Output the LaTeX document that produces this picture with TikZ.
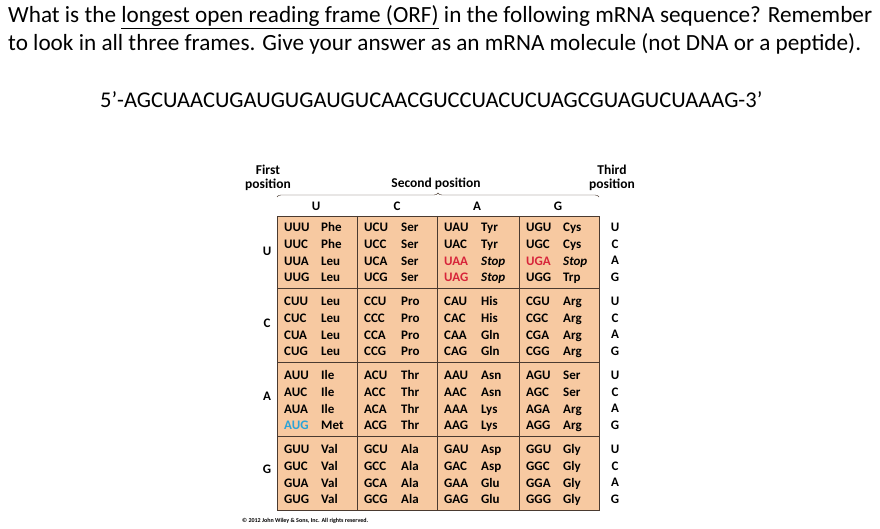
\documentclass[tikz,border=0pt]{standalone}
\usepackage{fontspec}
\setmainfont{Carlito}
\usetikzlibrary{decorations.pathreplacing}
\definecolor{peach}{HTML}{F7C9A1}
\definecolor{stopred}{HTML}{D7243A}
\definecolor{metblue}{HTML}{2AA3D8}
\definecolor{gridc}{HTML}{4A3A30}
\begin{document}
\begin{tikzpicture}[x=1pt,y=-1pt,
  q/.style={anchor=base west,inner sep=0,font=\fontsize{23.2}{26}\selectfont},
  t/.style={inner sep=0,text height=9pt,text depth=2pt,font=\bfseries\fontsize{13}{14}\selectfont},
  h/.style={inner sep=0,font=\bfseries\fontsize{13.5}{14}\selectfont,align=center}]
\useasboundingbox (0,0) rectangle (880,529);
\node[q] (q1) at (8,23) {What is the \underline{longest open reading frame (ORF)} in the following mRNA sequence? Remember};
\node[q] (q2) at (8,51) {to look in all three frames. Give your answer as an mRNA molecule (not DNA or a peptide).};
\node[q,font=\fontsize{22.5}{26}\selectfont] (seq) at (100,108) {5’-AGCUAACUGAUGUGAUGUCAACGUCCUACUCUAGCGUAGUCUAAAG-3’};
% table
\fill[peach] (277,216) rectangle (599,510);
\foreach \x in {357,437,519} \draw[gridc,line width=0.9] (\x,216) -- (\x,510);
\foreach \y in {288,362,436} \draw[gridc,line width=0.9] (277,\y) -- (599,\y);
\draw[gridc,line width=0.9] (277,216) rectangle (599,510);
\node[h] (fp) at (268,178) {First\\position};
\node[h] (sp) at (436,184) {Second position};
\node[h] (tp) at (612,178) {Third\\position};
\draw[gridc,decorate,decoration={brace,amplitude=4pt}] (277,197) -- (599,197);
\foreach \l/\x in {U/316,C/397,A/477,G/558} \node[t] (c\l) at (\x,207) {\l};
\foreach \l/\y in {U/252,C/324,A/397,G/470}{
  \node[t] (r\l) at (267,\y) {\l};}
\foreach \yy in {228,302,376,450}
  \foreach \l [count=\i from 0] in {U,C,A,G} \node[t] (th\yy\l) at (615,\yy+16.7*\i) {\l};
\def\cell#1#2#3#4{\node[t,anchor=west] (k#1#2) at (#1+7,#2) {#3};\node[t,anchor=west] (a#1#2) at (#1+44,#2) {#4};}
% U block
\cell{277}{228}{UUU}{Phe}\cell{277}{245}{UUC}{Phe}\cell{277}{262}{UUA}{Leu}\cell{277}{278}{UUG}{Leu}
\cell{357}{228}{UCU}{Ser}\cell{357}{245}{UCC}{Ser}\cell{357}{262}{UCA}{Ser}\cell{357}{278}{UCG}{Ser}
\cell{437}{228}{UAU}{Tyr}\cell{437}{245}{UAC}{Tyr}\cell{437}{262}{\color{stopred}UAA}{\itshape Stop}\cell{437}{278}{\color{stopred}UAG}{\itshape Stop}
\cell{519}{228}{UGU}{Cys}\cell{519}{245}{UGC}{Cys}\cell{519}{262}{\color{stopred}UGA}{\itshape Stop}\cell{519}{278}{UGG}{Trp}
% C block
\cell{277}{302}{CUU}{Leu}\cell{277}{319}{CUC}{Leu}\cell{277}{336}{CUA}{Leu}\cell{277}{352}{CUG}{Leu}
\cell{357}{302}{CCU}{Pro}\cell{357}{319}{CCC}{Pro}\cell{357}{336}{CCA}{Pro}\cell{357}{352}{CCG}{Pro}
\cell{437}{302}{CAU}{His}\cell{437}{319}{CAC}{His}\cell{437}{336}{CAA}{Gln}\cell{437}{352}{CAG}{Gln}
\cell{519}{302}{CGU}{Arg}\cell{519}{319}{CGC}{Arg}\cell{519}{336}{CGA}{Arg}\cell{519}{352}{CGG}{Arg}
% A block
\cell{277}{376}{AUU}{Ile}\cell{277}{393}{AUC}{Ile}\cell{277}{410}{AUA}{Ile}\cell{277}{426}{\color{metblue}AUG}{Met}
\cell{357}{376}{ACU}{Thr}\cell{357}{393}{ACC}{Thr}\cell{357}{410}{ACA}{Thr}\cell{357}{426}{ACG}{Thr}
\cell{437}{376}{AAU}{Asn}\cell{437}{393}{AAC}{Asn}\cell{437}{410}{AAA}{Lys}\cell{437}{426}{AAG}{Lys}
\cell{519}{376}{AGU}{Ser}\cell{519}{393}{AGC}{Ser}\cell{519}{410}{AGA}{Arg}\cell{519}{426}{AGG}{Arg}
% G block
\cell{277}{450}{GUU}{Val}\cell{277}{467}{GUC}{Val}\cell{277}{484}{GUA}{Val}\cell{277}{500}{GUG}{Val}
\cell{357}{450}{GCU}{Ala}\cell{357}{467}{GCC}{Ala}\cell{357}{484}{GCA}{Ala}\cell{357}{500}{GCG}{Ala}
\cell{437}{450}{GAU}{Asp}\cell{437}{467}{GAC}{Asp}\cell{437}{484}{GAA}{Glu}\cell{437}{500}{GAG}{Glu}
\cell{519}{450}{GGU}{Gly}\cell{519}{467}{GGC}{Gly}\cell{519}{484}{GGA}{Gly}\cell{519}{500}{GGG}{Gly}
\node[inner sep=0,anchor=west,font=\bfseries\fontsize{6}{6}\selectfont] (copy) at (242,521) {© 2012 John Wiley \& Sons, Inc. All rights reserved.};
\end{tikzpicture}
\end{document}
